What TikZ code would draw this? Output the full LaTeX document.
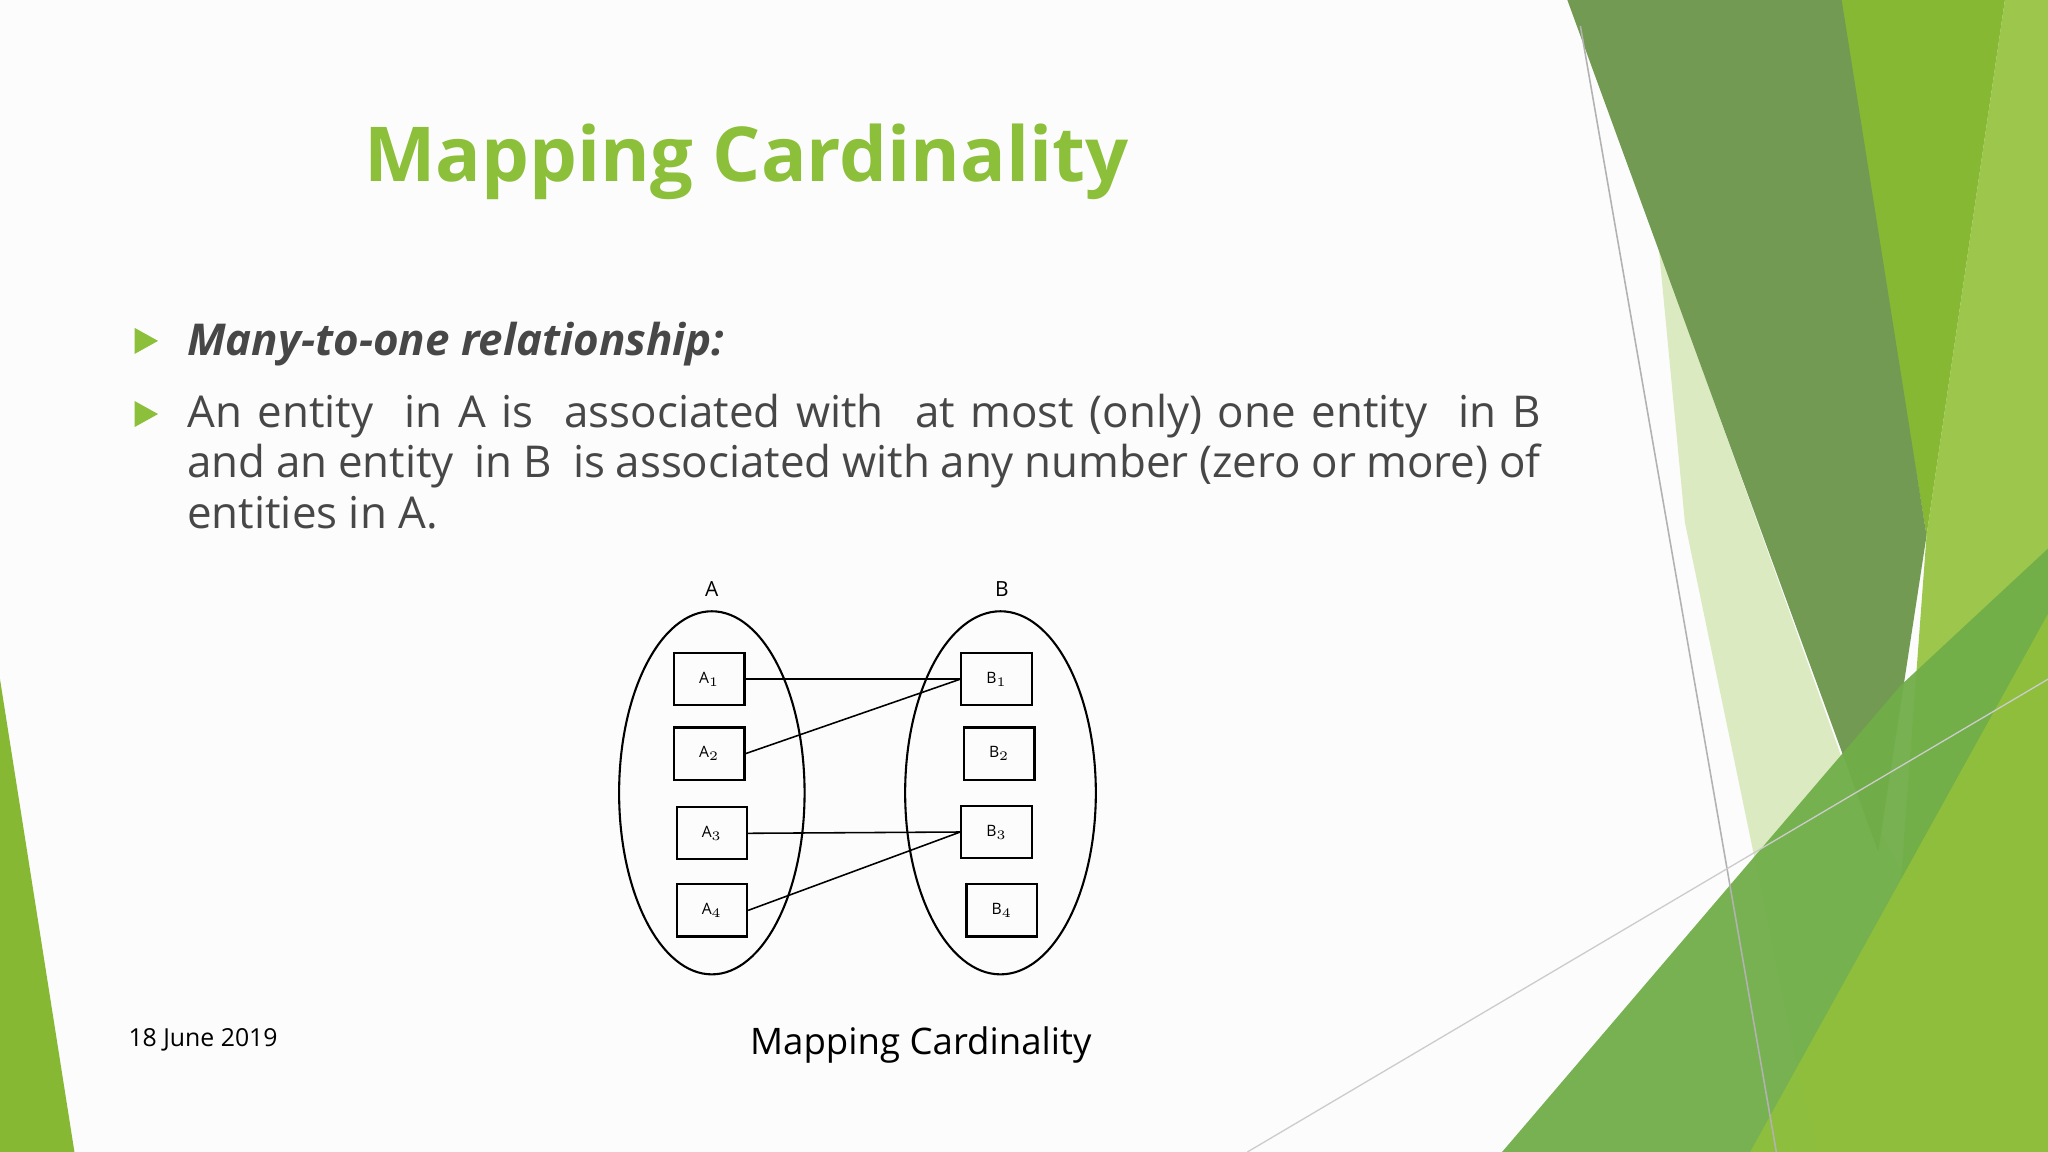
\documentclass[tikz,border=0pt]{standalone}
\usepackage{fontspec}
\setmainfont{Open Sans}
\definecolor{tgreen}{HTML}{8DC03A}
\definecolor{dband}{HTML}{729A52}
\definecolor{bgreen}{HTML}{86B834}
\definecolor{mgreen}{HTML}{70AE48}
\definecolor{lgreen}{HTML}{DCEAC2}
\definecolor{rgreen}{HTML}{93C13A}
\begin{document}
\begin{tikzpicture}[x=0.5pt,y=-0.5pt,
  box/.style={draw,line width=0.8pt,minimum width=27pt,minimum height=20pt,inner sep=0pt,font=\fontsize{6}{7}\selectfont},
  link/.style={line width=0.6pt},
  body/.style={text=black!72,font=\fontsize{16.8}{19.5}\selectfont,anchor=north west}]
\useasboundingbox (0,0) rectangle (1568,882);
\fill[white!98!gray] (0,0) rectangle (1568,882);
% decorations
\fill[lgreen] (1270,190) -- (1410,580) -- (1568,882) -- (1390,882) -- (1290,400) -- cycle;
\fill[bgreen] (1408,0) -- (1535,0) -- (1475,410) -- cycle;
\fill[dband] (1200,0) -- (1410,0) -- (1475,410) -- (1438,652) -- cycle;
\fill[rgreen,opacity=0.9] (1535,0) -- (1568,0) -- (1568,882) -- (1440,882) -- (1475,410) -- cycle;
\fill[mgreen,opacity=0.95] (1150,882) -- (1455,525) -- (1568,420) -- (1568,882) -- cycle;
\fill[rgreen,opacity=0.85] (1340,882) -- (1568,470) -- (1568,882) -- cycle;
\fill[bgreen] (0,520) -- (57,882) -- (0,882) -- cycle;
\draw[gray!60,line width=0.6pt] (1210,20) -- (1360,882);
\draw[gray!40,line width=0.5pt] (955,882) -- (1568,520);
% text
\node[anchor=west,text=tgreen,font=\fontsize{29}{34}\selectfont\bfseries] (title) at (272,124) {Mapping Cardinality};
\fill[tgreen] (103,251) -- (121,261) -- (103,271) -- cycle;
\fill[tgreen] (103,307) -- (121,317) -- (103,327) -- cycle;
\node[body,inner sep=0pt] (t1) at (143,246) {\itshape\bfseries Many-to-one relationship:};
\node[body,inner sep=0pt,text width=518pt,align=justify] (t2) at (143,301)
 {An entity\ \ in A is\ \ associated with\ \ at most (only) one entity\ \ in B\ \ and an entity\ \ in B\ \ is associated with any number (zero or more) of entities in A.};
% diagram
\draw[line width=0.8pt] (545,607) ellipse [x radius=71,y radius=139];
\draw[line width=0.8pt] (766,607) ellipse [x radius=73,y radius=139];
\node[font=\fontsize{8}{8}\selectfont] (lA) at (545,451) {A};
\node[font=\fontsize{8}{8}\selectfont] (lB) at (767,451) {B};
\node[box] (a1) at (543,520) {A$_1$};
\node[box] (a2) at (543,577) {A$_2$};
\node[box] (a3) at (545,638) {A$_3$};
\node[box] (a4) at (545,697) {A$_4$};
\node[box] (b1x) at (763,520) {B$_1$};
\node[box] (b2x) at (765,577) {B$_2$};
\node[box] (b3x) at (763,637) {B$_3$};
\node[box] (b4x) at (767,697) {B$_4$};
\draw[link] (a1.east) -- (b1x.west);
\draw[link] (a2.east) -- (b1x.west);
\draw[link] (a3.east) -- (b3x.west);
\draw[link] (a4.east) -- (b3x.west);
% footer
\node[anchor=west,inner sep=0pt,font=\fontsize{9.5}{12}\selectfont] (date) at (98,796) {18 June 2019};
\node[font=\fontsize{14}{16}\selectfont] (foot) at (705,800) {Mapping Cardinality};
\end{tikzpicture}
\end{document}
